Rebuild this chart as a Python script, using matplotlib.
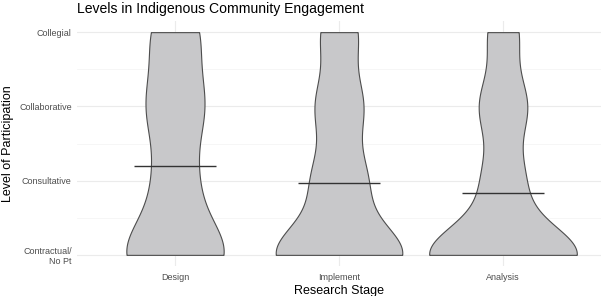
import numpy as np
import matplotlib
matplotlib.use("Agg")
import matplotlib.pyplot as plt

plt.rcParams["font.family"] = ["Liberation Sans", "DejaVu Sans"]

# response counts per level (1=Contractual .. 4=Collegial)
stages = ["Design", "Implement", "Analysis"]
levels = [1, 2, 3, 4]
level_labels = ["Contractual/\nNo Pt", "Consultative", "Collaborative", "Collegial"]
design_counts = [24, 9, 13, 11]
implement_counts = [39, 16, 14, 11]
analysis_counts = [45, 12, 14, 9]


def nrd0(x):
    # R's default bandwidth (bw.nrd0), like ggplot's geom_violin
    sd = np.std(x, ddof=1)
    iqr = np.percentile(x, 75) - np.percentile(x, 25)
    lo = min(sd, iqr / 1.34) if iqr > 0 else sd
    return 0.9 * lo * len(x) ** (-0.2)


def violin_density(x):
    h = nrd0(x)
    grid = np.linspace(x.min(), x.max(), 512)
    z = (grid[:, None] - x[None, :]) / h
    dens = np.exp(-0.5 * z ** 2).sum(axis=1) / (len(x) * h * np.sqrt(2 * np.pi))
    return grid, dens


samples = [np.repeat(levels, c).astype(float) for c in [design_counts, implement_counts, analysis_counts]]
curves = [violin_density(s) for s in samples]
max_dens = max(d.max() for _, d in curves)

fig = plt.figure(figsize=(6.02, 2.96), dpi=100)
ax = fig.add_axes([76.6 / 602, 1 - 266 / 296, (601.4 - 76.6) / 602, (266 - 21) / 296])

for i, (grid, dens) in enumerate(curves):
    pos = i + 1
    hw = 0.45 * dens / max_dens  # scale="area", widest violin 0.9
    ax.fill_betweenx(grid, pos - hw, pos + hw, facecolor="#C8C8CA",
                     edgecolor="#4D4D4D", linewidth=0.8, zorder=2)
    ax.hlines(samples[i].mean(), pos - 0.25, pos + 0.25, color="#333333",
              linewidth=1.0, zorder=3)

ax.set_xlim(0.4, 3.6)
ax.set_ylim(0.85, 4.15)
ax.set_xticks([1, 2, 3])
ax.set_xticklabels(stages)
ax.set_yticks(levels)
ax.set_yticklabels(level_labels)
ax.set_yticks([1.5, 2.5, 3.5], minor=True)
ax.tick_params(axis="both", which="both", length=0, labelsize=6.5, labelcolor="#4D4D4D")
ax.tick_params(axis="x", pad=5)
ax.tick_params(axis="y", pad=3.5)
ax.grid(which="major", color="#EBEBEB", linewidth=0.8, zorder=0)
ax.grid(which="minor", axis="y", color="#F3F3F3", linewidth=0.5, zorder=0)
ax.set_axisbelow(True)
for s in ax.spines.values():
    s.set_visible(False)

ax.set_xlabel("Research Stage", fontsize=9, labelpad=2)
ax.set_ylabel("Level of Participation", fontsize=9, labelpad=4)
fig.text(77 / 602, 1 - 2 / 296, "Levels in Indigenous Community Engagement",
         fontsize=10.1, ha="left", va="top")

fig.savefig("out.png", dpi=100)
